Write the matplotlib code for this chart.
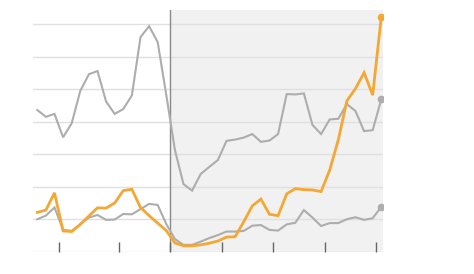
import matplotlib
matplotlib.use("Agg")
import matplotlib.pyplot as plt
import numpy as np

# Data (arbitrary units, gridlines every 10)
upper_gray = [43.6, 41.5, 42.4, 35.2, 39.5, 49.5, 54.6, 55.6, 46.2, 42.4,
              43.9, 48.1, 66.0, 69.4, 64.5, 48.2, 31.3, 20.8, 18.8, 23.9,
              26.1, 28.2, 34.1, 34.5, 35.1, 36.2, 33.8, 34.2, 36.2, 48.5,
              48.4, 48.7, 39.0, 36.2, 40.7, 40.9, 45.4, 43.3, 37.1, 37.4,
              46.9]
lower_gray = [10.0, 11.1, 13.6, 6.7, 6.4, 8.5, 10.5, 11.3, 9.8, 9.9,
              11.6, 11.5, 13.1, 14.7, 14.4, 8.5, 3.9, 2.1, 2.1, 3.1,
              4.2, 5.1, 6.2, 6.2, 6.4, 8.0, 8.2, 6.7, 6.5, 8.4,
              8.9, 12.8, 10.5, 7.9, 8.8, 8.8, 10.0, 10.6, 9.8, 10.3,
              13.8]
orange = [12.1, 12.8, 18.1, 6.4, 6.2, 8.4, 11.0, 13.5, 13.4, 15.0,
          18.8, 19.2, 13.6, 11.1, 8.8, 6.5, 2.7, 1.8, 1.8, 2.1,
          2.6, 3.3, 4.5, 4.6, 9.2, 14.1, 16.2, 11.5, 11.1, 17.8,
          19.4, 19.1, 19.0, 18.5, 25.1, 34.4, 46.4, 50.2, 55.1, 48.2,
          72.2]
tick_positions = [2.56, 9.5, 15.43, 21.48, 27.44, 33.42, 39.38]
shade_start = 15.43
grid_values = [0, 10, 20, 30, 40, 50, 60, 70]

x = np.arange(len(orange))

fig = plt.figure(figsize=(4.74, 2.74), dpi=100)
ax = fig.add_axes([33 / 474, (274 - 251.7) / 274, 350 / 474, (251.7 - 10) / 274])
ax.set_xlim(-0.5, 40.2)
ax.set_ylim(0, 74.37)

ax.axvspan(shade_start, 40.2, color="#f1f1f1", zorder=0, lw=0)
for g in grid_values:
    ax.axhline(g, color="#e0e0e0", lw=1, zorder=1)
ax.axvline(shade_start, color="#8a8a8a", lw=1, zorder=1.5)

ax.plot(x, upper_gray, color="#adadad", lw=1.5, zorder=2, solid_joinstyle="miter")
ax.plot(x, lower_gray, color="#adadad", lw=1.5, zorder=2, solid_joinstyle="miter")
ax.plot(x, orange, color="#f5a733", lw=2.0, zorder=3, solid_joinstyle="miter")

ax.plot(x[-1], upper_gray[-1], "o", color="#adadad", ms=5.5, zorder=4, mec="none")
ax.plot(x[-1], lower_gray[-1], "o", color="#adadad", ms=5.5, zorder=4, mec="none")
ax.plot(x[-1], orange[-1], "o", color="#f5a733", ms=5.5, zorder=4, mec="none")

ax.set_xticks(tick_positions)
ax.set_xticklabels([])
ax.set_yticks([])
ax.tick_params(axis="x", direction="in", length=7, width=1, color="#666666")
for s in ax.spines.values():
    s.set_visible(False)

fig.savefig("out.png", dpi=100)
